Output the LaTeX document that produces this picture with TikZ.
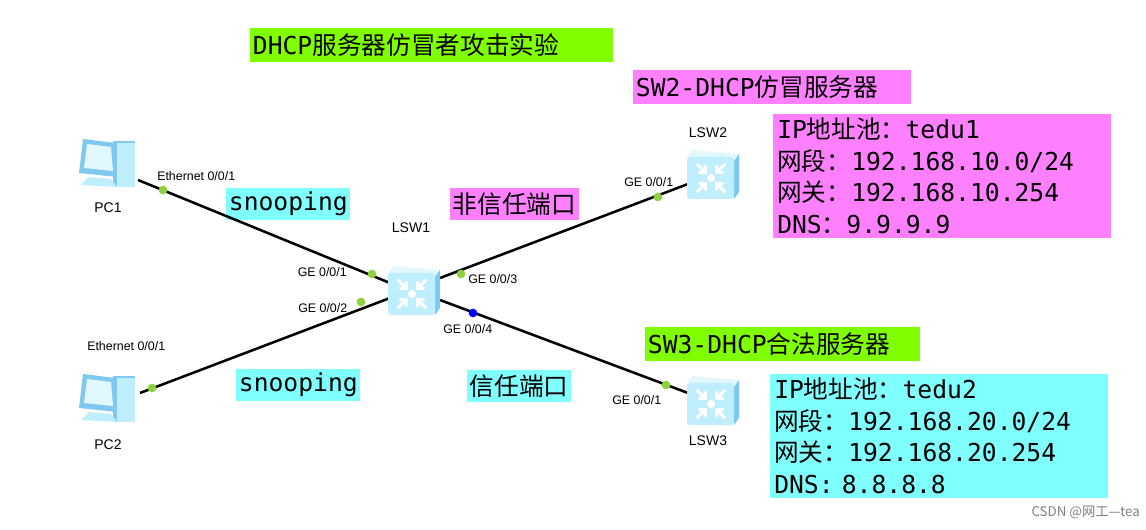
\documentclass[tikz,border=0pt]{standalone}
\usepackage{fontspec}
\setmainfont{Liberation Sans}
\newfontfamily\cjk{Noto Sans CJK SC}
\newfontfamily\mono{DejaVu Sans Mono}
\definecolor{mag}{HTML}{FF80FF}
\definecolor{cyn}{HTML}{80FFFF}
\definecolor{grn}{HTML}{80FF00}
\definecolor{dotg}{HTML}{8CD23C}
\definecolor{icf}{HTML}{BFEFFF}
\definecolor{ics}{HTML}{7FC8F0}
\definecolor{ict}{HTML}{E2F8FF}
\tikzset{
  x=0.75pt,y=-0.75pt,
  lbl/.style={fill=#1,inner sep=2pt,anchor=west,font=\mono\fontsize{18.5}{18.5}\selectfont},
  port/.style={font=\fontsize{9.3}{10}\selectfont,inner sep=0pt},
  dev/.style={font=\fontsize{10.5}{10}\selectfont,inner sep=0pt},
  link/.style={line width=1.9pt},
  pdot/.style={circle,fill=dotg,inner sep=0pt,minimum size=6.5pt},
}
\newcommand{\swicon}[2]{%
 \begin{scope}[shift={(#1,#2)}]
  \fill[ict] (-25,-17)--(-20,-24)--(27,-20)--(22,-13)--cycle;
  \fill[ics] (22,-13)--(27,-20)--(27,18)--(22,25)--cycle;
  \fill[icf,rounded corners=2pt] (-25,-17) rectangle (22,25);
  \fill[white] (-1,4) circle (4);
  \foreach \a in {45,135,225,315}{\draw[white,line width=2.2pt,rotate around={\a:(-1,4)}] (7,4)--(19,4) (12,-1)--(7,4)--(12,9);}
 \end{scope}}
\newcommand{\pcicon}[2]{%
 \begin{scope}[shift={(#1,#2)}]
  \fill[ics] (8,-24) rectangle (30,22);
  \fill[icf] (12,-22) rectangle (30,22);
  \fill[ics] (-22,-26)--(10,-22)--(12,12)--(-26,8)--cycle;
  \fill[ict] (-18,-21)--(6,-18)--(8,6)--(-21,3)--cycle;
  \fill[icf] (-16,12)--(6,14)--(12,22)--(-24,20)--cycle;
 \end{scope}}
\begin{document}
\begin{tikzpicture}
\useasboundingbox[fill=white] (0,0) rectangle (1146,530);
% boxes
\node[lbl=grn,minimum height=25pt,text width=268pt] (title) at (250,45) {DHCP{\cjk 服务器仿冒者攻击实验}};
\node[lbl=mag,minimum height=25pt,text width=204pt] (sw2l) at (633,87) {SW2-DHCP{\cjk 仿冒服务器}};
\node[lbl=grn,minimum height=25pt,text width=202pt] (sw3l) at (645,344) {SW3-DHCP{\cjk 合法服务器}};
\node[lbl=mag,minimum height=24pt] (nt) at (450,204) {\cjk 非信任端口};
\node[lbl=cyn,minimum height=24pt] (tr) at (467,386) {\cjk 信任端口};
\node[lbl=cyn,minimum height=24pt] (sn1) at (226,204) {snooping};
\node[lbl=cyn,minimum height=24pt] (sn2) at (236,385) {snooping};
\node[lbl=mag,anchor=north west,text width=247pt,inner sep=3pt,font=\mono\fontsize{18.5}{23.6}\selectfont] (i1) at (773,114) {IP{\cjk 地址池：}tedu1\\{\cjk 网段：}192.168.10.0/24\\{\cjk 网关：}192.168.10.254\\DNS{\cjk ：}9.9.9.9};
\node[lbl=cyn,anchor=north west,text width=247pt,inner sep=3pt,font=\mono\fontsize{18.5}{23.6}\selectfont] (i2) at (770,374) {IP{\cjk 地址池：}tedu2\\{\cjk 网段：}192.168.20.0/24\\{\cjk 网关：}192.168.20.254\\DNS: 8.8.8.8};
% devices
\draw[link] (138,180) coordinate (a1) -- (390,283) coordinate (b1);
\draw[link] (440,278) coordinate (a2) -- (688,184) coordinate (b2);
\draw[link] (390,298) coordinate (a3) -- (140,393) coordinate (b3);
\draw[link] (440,300) coordinate (a4) -- (688,393) coordinate (b4);
\swicon{413}{290}\swicon{712}{174}\swicon{712}{400}
\pcicon{105}{165}\pcicon{105}{400}
\node[pdot] (d1) at (163,190) {};
\node[pdot] (d2) at (372,274) {};
\node[pdot] (d3) at (461,274) {};
\node[pdot] (d4) at (658,197) {};
\node[pdot] (d5) at (361,302) {};
\node[pdot] (d6) at (152,388) {};
\node[pdot,fill=blue] (d7) at (473,313) {};
\node[pdot] (d8) at (666,385) {};
\node[dev] (t1) at (108,208) {PC1};
\node[dev] (t2) at (108,445) {PC2};
\node[dev] (t3) at (411,228) {LSW1};
\node[dev] (t4) at (708,133) {LSW2};
\node[dev] (t5) at (708,441) {LSW3};
\node[port,anchor=west] (p1) at (157,176) {Ethernet 0/0/1};
\node[port,anchor=east] (p2) at (347,272) {GE 0/0/1};
\node[port,anchor=west] (p3) at (468,279) {GE 0/0/3};
\node[port,anchor=west] (p4) at (298,308) {GE 0/0/2};
\node[port,anchor=west] (p5) at (443,329) {GE 0/0/4};
\node[port,anchor=west] (p6) at (87,346) {Ethernet 0/0/1};
\node[port,anchor=west] (p7) at (624,182) {GE 0/0/1};
\node[port,anchor=west] (p8) at (612,400) {GE 0/0/1};
\node[anchor=east,text=gray,inner sep=0pt,font=\cjk\fontsize{10}{10}\selectfont] (wm) at (1140,512) {CSDN @网工—tea};
\end{tikzpicture}
\end{document}
